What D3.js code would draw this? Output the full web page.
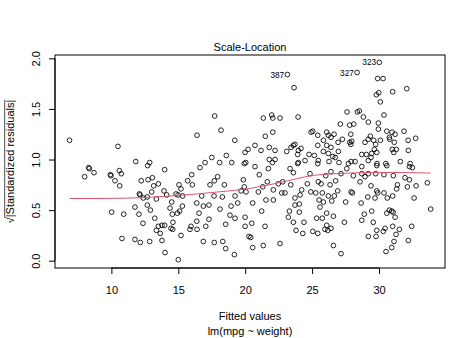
<!DOCTYPE html>
<html>
<head>
<meta charset="utf-8">
<script src="https://cdn.jsdelivr.net/npm/d3@7"></script>
<style>
  html, body { margin: 0; padding: 0; background: #fff; }
  svg { display: block; }
  text { font-family: "Liberation Sans", Arial, Helvetica, sans-serif; fill: #000; }
</style>
</head>
<body>
<script>
// ---- data ----
const chartTitle = "Scale-Location";
const xLabel = "Fitted values";
const subLabel = "lm(mpg ~ weight)";
const yLabelText = "|Standardized residuals|";
const xTicks = [10, 15, 20, 25, 30];
const yTicks = [0.0, 0.5, 1.0, 1.5, 2.0];
const xDomain = [5.785, 34.93];
const yDomain = [-0.072, 2.033];

// fitted values (x) and sqrt(|standardized residuals|) (y); first three are labelled
const fitted = [
23.15,28.36,30.02,
6.87,10.49,11.82,12.86,8.30,8.35,8.00,8.70,9.92,9.97,10.59,10.74,10.27,10.62,12.71,13.98,12.23,12.74,13.06,13.16,13.51,13.01,13.93,12.09,12.14,12.38,12.68,13.36,14.13,14.83,15.05,15.20,14.98,15.33,10.02,10.92,11.76,12.06,12.68,12.91,14.51,14.38,14.55,14.93,15.10,15.30,13.24,12.36,13.51,13.78,13.98,13.36,13.65,14.60,14.45,14.58,15.20,13.78,10.79,11.76,12.16,12.86,14.01,15.00,
23.65,17.72,21.35,21.98,22.06,22.60,23.95,16.40,18.19,19.22,21.50,22.06,24.92,25.05,20.73,20.21,19.99,21.18,21.80,22.23,23.10,23.42,23.60,23.72,23.97,24.17,23.92,24.77,17.00,17.50,18.09,18.59,18.99,19.93,20.04,21.80,22.23,22.03,23.97,24.47,25.16,
29.90,30.30,32.07,31.02,29.98,29.80,30.10,27.61,28.38,28.53,28.83,29.20,30.37,27.11,27.81,28.11,29.95,29.95,30.58,30.97,31.20,31.87,25.42,26.09,26.21,26.64,26.41,27.89,27.26,25.84,26.94,27.81,27.96,27.89,29.35,29.20,29.60,30.10,29.75,30.77,30.80,31.14,32.17,32.74,25.42,26.09,26.41,25.84,26.21,26.96,26.54,26.73,28.95,28.71,29.05,29.45,29.83,29.65,30.99,31.29,32.19,31.10,29.20,29.40,25.46,27.01,27.71,28.21,29.85,30.50,31.59,32.32,
16.62,16.00,15.70,16.05,17.94,17.69,17.37,18.44,19.86,19.93,19.69,20.06,16.75,17.67,18.29,19.24,16.38,16.87,17.29,18.12,18.94,19.44,16.55,18.86,19.24,19.99,16.38,17.29,15.95,15.87,16.40,17.05,18.54,19.99,20.28,16.87,17.69,18.32,18.54,19.19,
20.73,21.05,21.73,23.35,23.60,23.92,24.84,24.64,22.80,22.47,23.40,21.65,21.31,20.98,22.10,22.73,22.97,24.22,24.10,24.90,20.56,21.55,22.10,23.72,23.72,24.04,21.23,23.30,24.04,23.22,23.60,24.39,20.49,21.48,23.80,24.30,25.05,20.41,22.60,21.35,20.56,
25.42,26.26,27.91,28.71,29.83,27.59,26.41,26.02,27.16,28.08,28.71,28.95,29.20,29.75,25.46,25.67,26.34,26.76,28.58,29.40,25.27,25.76,26.21,26.91,26.66,27.91,28.01,29.83,29.90,29.16,29.70,25.52,25.84,26.47,27.51,28.66,25.59,25.34,26.09,25.76,26.59,28.90,29.45,28.71,27.41,29.57,26.09,25.96,26.41,26.17,25.42,29.20,29.78,29.83,26.59,27.16,
30.58,32.27,32.49,30.37,31.07,31.94,32.27,33.61,31.37,31.32,32.12,32.77,30.37,30.62,31.02,32.62,33.86,30.77,30.95,31.05,30.58,31.20,30.45,30.32,31.02,31.52,31.27,32.44,32.19,31.12,30.95,30.52
];
const sqrtStdResid = [
1.84,1.86,1.96,
1.19,1.13,0.98,0.97,0.92,0.91,0.83,0.87,0.85,0.84,0.89,0.86,0.79,0.74,0.94,0.90,0.79,0.80,0.82,0.74,0.76,0.68,0.69,0.66,0.65,0.62,0.63,0.61,0.65,0.66,0.75,0.71,0.65,0.64,0.48,0.46,0.53,0.46,0.55,0.50,0.58,0.52,0.46,0.47,0.49,0.54,0.42,0.37,0.34,0.35,0.35,0.30,0.27,0.38,0.32,0.31,0.25,0.20,0.22,0.21,0.18,0.19,0.08,0.01,
1.71,1.43,1.41,1.44,1.41,1.41,1.42,1.24,1.29,1.19,1.23,1.27,1.27,1.28,1.14,1.10,1.07,1.09,1.12,1.09,1.08,1.12,1.14,1.15,1.09,1.11,1.05,1.05,0.97,1.02,0.97,1.04,0.97,0.96,0.97,1.00,1.00,0.97,0.97,0.99,1.04,
1.80,1.80,1.70,1.67,1.66,1.64,1.57,1.47,1.47,1.48,1.42,1.37,1.44,1.35,1.34,1.35,1.36,1.30,1.28,1.27,1.25,1.28,1.24,1.27,1.24,1.25,1.22,1.25,1.20,1.19,1.17,1.17,1.18,1.15,1.23,1.20,1.19,1.19,1.15,1.22,1.20,1.17,1.19,1.21,1.14,1.14,1.12,1.08,1.06,1.08,1.03,1.02,1.17,1.05,1.05,1.06,1.07,1.10,1.10,1.10,1.09,1.07,0.99,1.02,0.99,0.97,0.96,0.98,0.96,0.96,0.98,0.96,
0.92,0.85,0.79,0.75,0.83,0.79,0.75,0.75,0.80,0.73,0.69,0.68,0.64,0.64,0.63,0.64,0.57,0.54,0.55,0.51,0.54,0.57,0.47,0.45,0.42,0.43,0.39,0.41,0.34,0.31,0.31,0.34,0.36,0.34,0.24,0.19,0.18,0.19,0.12,0.06,
0.93,0.85,0.91,0.91,0.87,0.96,0.86,0.76,0.78,0.76,0.75,0.78,0.73,0.68,0.70,0.67,0.67,0.70,0.65,0.68,0.57,0.60,0.60,0.62,0.55,0.56,0.49,0.49,0.48,0.43,0.38,0.38,0.37,0.34,0.30,0.27,0.29,0.23,0.17,0.15,0.13,
0.96,0.98,0.98,0.93,0.94,0.91,0.88,0.84,0.86,0.84,0.86,0.83,0.86,0.86,0.78,0.76,0.75,0.79,0.78,0.74,0.67,0.67,0.64,0.69,0.64,0.68,0.67,0.69,0.67,0.63,0.62,0.60,0.58,0.59,0.58,0.57,0.53,0.42,0.47,0.42,0.44,0.46,0.49,0.40,0.38,0.38,0.35,0.31,0.32,0.30,0.27,0.24,0.24,0.30,0.15,0.07,
0.94,0.93,0.92,0.85,0.84,0.82,0.80,0.77,0.75,0.71,0.73,0.74,0.67,0.62,0.64,0.62,0.51,0.50,0.49,0.48,0.47,0.43,0.32,0.29,0.34,0.31,0.26,0.34,0.20,0.19,0.13,0.09
];
const labelIndex = [0, 1, 2];
const labelText = ["387", "327", "323"];

// smoother (red line)
const smoothX = [6.87, 9, 11, 13, 15.5, 18, 20.4, 22.5, 25.2, 27, 29, 31, 33.86];
const smoothY = [0.615, 0.615, 0.618, 0.628, 0.65, 0.68, 0.715, 0.77, 0.845, 0.862, 0.87, 0.872, 0.866];

// ---- drawing ----
const W = 474, H = 338;
const box = { left: 55, right: 445, top: 55, bottom: 268 };
const fs = 11;

const svg = d3.select("body").append("svg")
  .attr("width", W).attr("height", H);
svg.append("rect").attr("width", W).attr("height", H).attr("fill", "#fff");

const x = d3.scaleLinear().domain(xDomain).range([box.left, box.right]);
const y = d3.scaleLinear().domain(yDomain).range([box.bottom, box.top]);

// x axis
const xAxis = d3.axisBottom(x).tickValues(xTicks).tickFormat(d3.format("d"))
  .tickSize(6).tickPadding(10);
const gx = svg.append("g").attr("transform", `translate(0,${box.bottom})`).call(xAxis);
gx.select(".domain").attr("d", `M${x(xTicks[0])},0H${x(xTicks[xTicks.length-1])}`).attr("stroke", "#000");
gx.selectAll(".tick line").attr("stroke", "#000");
gx.selectAll(".tick text").attr("font-size", fs)
  .attr("font-family", '"Liberation Sans", Arial, sans-serif')
  .attr("dy", null).attr("y", 26).attr("fill", "#000");

// y axis
const yAxis = d3.axisLeft(y).tickValues(yTicks).tickFormat(d3.format(".1f")).tickSize(6);
const gy = svg.append("g").attr("transform", `translate(${box.left},0)`).call(yAxis);
gy.select(".domain").attr("d", `M0,${y(yTicks[0])}V${y(yTicks[yTicks.length-1])}`).attr("stroke", "#000");
gy.selectAll(".tick line").attr("stroke", "#000");
gy.selectAll(".tick text")
  .attr("font-size", fs)
  .attr("font-family", '"Liberation Sans", Arial, sans-serif')
  .attr("x", null).attr("dy", null)
  .attr("text-anchor", "middle")
  .attr("transform", "translate(-15,0) rotate(-90)")
  .attr("fill", "#000");

// plot box
svg.append("rect")
  .attr("x", box.left).attr("y", box.top)
  .attr("width", box.right - box.left).attr("height", box.bottom - box.top)
  .attr("fill", "none").attr("stroke", "#000").attr("stroke-width", 1);

// points
const pts = fitted.map((f, i) => ({ f, r: sqrtStdResid[i] }));
svg.append("g").selectAll("circle").data(pts).join("circle")
  .attr("cx", d => x(d.f)).attr("cy", d => y(d.r))
  .attr("r", 2.35)
  .attr("fill", "none").attr("stroke", "#000").attr("stroke-width", 0.85);

// smoother
const line = d3.line().x(d => x(d[0])).y(d => y(d[1])).curve(d3.curveMonotoneX);
svg.append("path")
  .datum(smoothX.map((v, i) => [v, smoothY[i]]))
  .attr("d", line)
  .attr("fill", "none").attr("stroke", "#DF536B").attr("stroke-width", 1);

// point labels
svg.append("g").selectAll("text").data(labelIndex).join("text")
  .attr("x", i => x(fitted[i]) - 3.2)
  .attr("y", i => y(sqrtStdResid[i]) + 3)
  .attr("text-anchor", "end")
  .attr("font-size", fs * 0.75)
  .text((i, k) => labelText[k]);

// title
svg.append("text")
  .attr("x", (box.left + box.right) / 2).attr("y", 50.5)
  .attr("text-anchor", "middle").attr("font-size", fs)
  .text(chartTitle);

// x labels
svg.append("text")
  .attr("x", (box.left + box.right) / 2).attr("y", 320)
  .attr("text-anchor", "middle").attr("font-size", fs)
  .text(xLabel);
svg.append("text")
  .attr("x", (box.left + box.right) / 2).attr("y", 335)
  .attr("text-anchor", "middle").attr("font-size", fs)
  .text(subLabel);

// y label: sqrt(|Standardized residuals|) with radical and overbar
const yl = svg.append("g")
  .attr("transform", `translate(14,${(box.top + box.bottom) / 2}) rotate(-90)`);
const rad = yl.append("text").attr("font-size", fs).text("\u221A");
const body = yl.append("text").attr("font-size", fs).text(yLabelText);
const rw = rad.node().getComputedTextLength();
const bw = body.node().getComputedTextLength();
const total = rw + bw;
rad.attr("x", -total / 2);
body.attr("x", -total / 2 + rw);
yl.append("line")
  .attr("x1", -total / 2 + rw - 0.5).attr("x2", total / 2)
  .attr("y1", -9.3).attr("y2", -9.3)
  .attr("stroke", "#000").attr("stroke-width", 0.7);
</script>
</body>
</html>
